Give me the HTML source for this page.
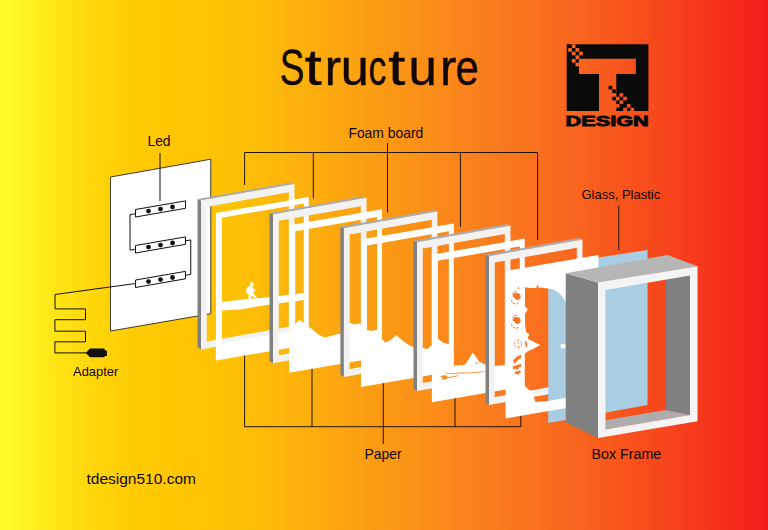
<!DOCTYPE html>
<html lang="en"><head><meta charset="utf-8"><title>Structure</title>
<style>html,body{margin:0;padding:0;background:#fff;}body{width:768px;height:530px;overflow:hidden;}svg{display:block;}</style>
</head><body>
<svg width="768" height="530" viewBox="0 0 768 530" font-family="'Liberation Sans', sans-serif">
<defs>
<linearGradient id="bg" gradientUnits="userSpaceOnUse" x1="0" y1="0" x2="768" y2="0">
<stop offset="0.0000" stop-color="#ffff2b"/>
<stop offset="0.0625" stop-color="#ffe919"/>
<stop offset="0.1250" stop-color="#ffd50a"/>
<stop offset="0.1823" stop-color="#ffca03"/>
<stop offset="0.2474" stop-color="#ffc502"/>
<stop offset="0.3125" stop-color="#fdc005"/>
<stop offset="0.3776" stop-color="#fdb40c"/>
<stop offset="0.4427" stop-color="#fca610"/>
<stop offset="0.5000" stop-color="#fb9a14"/>
<stop offset="0.6250" stop-color="#fa7f1d"/>
<stop offset="0.7500" stop-color="#f9651e"/>
<stop offset="0.8750" stop-color="#f7431c"/>
<stop offset="1.0000" stop-color="#f31d1b"/>
</linearGradient>
</defs>
<rect width="768" height="530" fill="url(#bg)"/>
<g stroke="#1a0d05" stroke-width="0.95" fill="none">
<path d="M244.6 185 V152.5 H537.6 V240"/>
<path d="M313.3 152.5 V198.5 M387.5 143 V212.5 M460.4 152.5 V227"/>
<path d="M244.6 352 V426.7 H520.8 V405"/>
<path d="M312 365 V426.7 M383.3 380 V444 M455 392 V426.7"/>
<path d="M618.75 205.5 V249.8"/>
</g>
<polygon points="110.50,177.00 210.75,159.25 210.75,313.75 110.50,331.00" fill="#fff" stroke="#111" stroke-width="0.8"/>
<g stroke="#111" stroke-width="1" fill="none">
<path d="M160 153 V201"/>
<path d="M135.5 213.75 L130 214.6 V250.1 L135.5 249.25"/>
<path d="M185.5 240.75 L190.75 240 V274.5 L185.5 275.25"/>
<path d="M135.5 283.5 L55 294.5 V308.9 H85.5 V319.7 H54.9 V331.2 H85.5 V341.8 H54.9 V352.9 H88"/>
<polygon fill="#fff" points="135.50,209.50 185.50,200.90 185.50,208.30 135.50,217.00"/>
<polygon fill="#fff" points="135.50,245.50 185.50,236.90 185.50,244.30 135.50,253.00"/>
<polygon fill="#fff" points="135.50,280.00 185.50,271.40 185.50,278.80 135.50,287.50"/>
</g>
<circle cx="148.50" cy="211.10" r="2.4" fill="#111"/>
<circle cx="160.50" cy="209.10" r="2.4" fill="#111"/>
<circle cx="172.50" cy="207.00" r="2.4" fill="#111"/>
<circle cx="148.50" cy="247.10" r="2.4" fill="#111"/>
<circle cx="160.50" cy="245.10" r="2.4" fill="#111"/>
<circle cx="172.50" cy="243.00" r="2.4" fill="#111"/>
<circle cx="148.50" cy="281.60" r="2.4" fill="#111"/>
<circle cx="160.50" cy="279.60" r="2.4" fill="#111"/>
<circle cx="172.50" cy="277.50" r="2.4" fill="#111"/>
<path fill="#111" d="M85.8 352.9 L90 348.6 H103.8 L105 349.8 V350.4 H106.9 V356 H105 V356.2 L103.8 357.3 H90 Z"/>
<polygon fill="#808080" points="197.50,199.00 201.00,200.60 201.00,349.40 197.50,347.00"/>
<polygon fill="#ababab" points="197.50,199.00 291.00,182.36 294.50,183.96 201.00,200.60"/>
<path fill="#f2f2f2" fill-rule="evenodd" d="M201.00 200.60 L294.50 183.96 L294.50 332.76 L201.00 349.40 Z M206.75 206.88 L288.80 192.27 L288.80 326.77 L206.75 341.38 Z"/>
<path fill="#fff" fill-rule="evenodd" d="M215.90 213.00 L308.75 196.90 L308.75 344.40 L215.90 360.50 Z M221.90 217.76 L303.75 203.57 L303.75 293.00 L270.00 297.31 L245.00 299.16 L221.90 302.00 Z M221.90 310.50 L240.00 309.38 L265.00 305.17 L303.75 300.00 L303.75 328.77 L221.90 342.96 Z"/>
<g fill="#fff"><circle cx="252" cy="284.2" r="1.9"/>
<path d="M250.2 285.8 C247.3 286.3 245.9 288.8 246.2 291.6 C246.4 293.4 247.6 294.4 249 294.5 L248.2 299.6 L250.3 299.8 L251.6 295.8 L254.6 297.9 L256.8 297.4 L256.5 296.4 L253.8 294.6 L253.6 291.4 L255.6 290.2 L255.2 289.2 L253.5 289.6 C253.6 287.6 252.4 285.8 250.2 285.8 Z"/></g>
<polygon fill="#808080" points="269.50,212.90 273.00,214.50 273.00,363.30 269.50,360.90"/>
<polygon fill="#ababab" points="269.50,212.90 363.00,196.26 366.50,197.86 273.00,214.50"/>
<path fill="#f2f2f2" fill-rule="evenodd" d="M273.00 214.50 L366.50 197.86 L366.50 346.66 L273.00 363.30 Z M278.75 220.78 L360.80 206.17 L360.80 340.67 L278.75 355.28 Z"/>
<path fill="#fff" fill-rule="evenodd" d="M289.20 225.30 L382.05 209.20 L382.05 356.70 L289.20 372.80 Z M295.20 231.26 L377.05 217.07 L377.05 330.00 L371.00 331.00 L365.50 330.00 L359.80 323.60 L354.00 324.50 L349.40 322.60 L345.00 329.00 L341.00 334.00 L336.60 334.30 L331.00 336.00 L327.00 337.00 L323.40 337.00 L320.00 335.50 L315.80 332.50 L312.00 329.00 L308.30 326.80 L303.00 322.50 L299.80 320.00 L296.50 322.50 L295.20 325.00 Z"/>
<polygon fill="#808080" points="340.40,226.60 343.90,228.20 343.90,377.00 340.40,374.60"/>
<polygon fill="#ababab" points="340.40,226.60 433.90,209.96 437.40,211.56 343.90,228.20"/>
<path fill="#f2f2f2" fill-rule="evenodd" d="M343.90 228.20 L437.40 211.56 L437.40 360.36 L343.90 377.00 Z M349.65 234.48 L431.70 219.87 L431.70 354.37 L349.65 368.98 Z"/>
<path fill="#fff" fill-rule="evenodd" d="M361.00 239.60 L453.85 223.50 L453.85 371.00 L361.00 387.10 Z M367.00 245.56 L448.85 231.37 L448.85 344.30 L442.80 342.50 L438.00 338.70 L432.50 344.30 L427.70 349.00 L422.00 348.00 L418.00 347.50 L413.60 347.00 L410.75 346.20 L405.00 342.50 L400.40 338.70 L398.50 337.00 L396.60 335.00 L393.00 338.00 L390.00 340.60 L385.30 342.50 L381.50 338.70 L376.80 330.00 L371.00 331.00 L367.00 330.00 Z"/>
<polygon fill="#808080" points="413.50,240.70 417.00,242.30 417.00,391.10 413.50,388.70"/>
<polygon fill="#ababab" points="413.50,240.70 507.00,224.06 510.50,225.66 417.00,242.30"/>
<path fill="#f2f2f2" fill-rule="evenodd" d="M417.00 242.30 L510.50 225.66 L510.50 374.46 L417.00 391.10 Z M422.75 248.58 L504.80 233.97 L504.80 368.47 L422.75 383.08 Z"/>
<path fill="#fff" fill-rule="evenodd" d="M431.90 254.70 L524.75 238.60 L524.75 386.10 L431.90 402.20 Z M437.90 260.66 L519.75 246.47 L519.75 363.00 L504.30 365.00 L494.50 366.00 L485.50 364.50 L483.00 363.60 L479.60 362.00 L472.80 352.40 L466.40 362.80 L465.50 364.20 L462.00 365.60 L460.00 364.80 L458.00 365.80 L456.00 365.00 L453.80 366.20 L446.00 367.60 L437.90 367.50 Z"/>
<g fill="url(#bg)"><path d="M444.6 372.5 L452 373.2 L460 372.6 L470 372.4 L484.4 371.2 L484.5 372 L470 373.2 L460 373.5 L452 374 L444.7 373.3 Z"/><path d="M440.2 376.4 L443 375.2 L446.6 375.6 L447.4 377 L452 376.6 L458.4 375.2 L458.5 375.9 L452 377.4 L447 378 L445.6 379.6 L441.6 379.4 L442.8 377.8 Z"/><path d="M475.2 362.6 h1.1 v1.3 h-1.1 Z M477.3 362.4 h1.1 v1.3 h-1.1 Z"/></g>
<polygon fill="#808080" points="485.50,254.60 489.00,256.20 489.00,405.00 485.50,402.60"/>
<polygon fill="#ababab" points="485.50,254.60 579.00,237.96 582.50,239.56 489.00,256.20"/>
<path fill="#f2f2f2" fill-rule="evenodd" d="M489.00 256.20 L582.50 239.56 L582.50 388.36 L489.00 405.00 Z M494.75 262.48 L576.80 247.87 L576.80 382.37 L494.75 396.98 Z"/>
<polygon fill="#a9cee3" points="548.25,265.20 647.50,250.00 647.50,405.00 548.25,423.00"/>
<path fill="#fff" fill-rule="evenodd" d="M505.60 271.00 L598.45 254.90 L598.45 402.40 L505.60 418.50 Z M525.00 287.30 L530.00 287.90 L536.20 288.10 L537.10 285.00 L538.60 285.90 L538.00 287.60 L540.90 287.40 L548.00 288.40 L552.00 289.10 L556.00 290.90 L560.00 294.00 L563.00 297.60 L565.00 300.60 L566.60 304.50 L568.00 311.00 L568.00 397.58 L548.00 401.05 L535.60 401.90 L531.70 392.00 L524.90 386.30 L523.20 379.50 L523.20 368.00 L524.00 354.50 L527.00 351.80 L533.00 349.00 L540.30 345.10 L533.00 341.40 L527.50 338.40 L529.40 334.30 L526.00 332.00 L525.20 325.20 L525.00 314.00 L527.70 309.30 L525.00 306.40 L525.00 297.00 Z"/>
<g fill="url(#bg)">
<path d="M518.2 286.6 L519.6 288.9 L517.6 288.4 Z"/>
<path d="M512.6 296.6 C512.2 294.2 514.6 292.6 517 292.8 C519.6 293 521 295 520.6 297.2 C520.2 299.2 518.2 300.2 516.2 299.8 C515.4 298.4 513.8 297.6 512.6 296.6 Z"/>
<path d="M512.6 320.6 C512.4 318.4 514.8 316.6 517.2 316.9 C519.8 317.2 521 319.2 520.6 321.4 C520.2 323.4 518 324.3 516 323.8 C515.2 322.4 513.8 321.6 512.6 320.6 Z"/>
<path d="M525.4 340.6 C527.2 342.4 527.8 345.6 526.2 348 C525.2 346 525 343 525.4 340.6 Z"/>
<path d="M512.8 361.6 C514.2 358.2 517.4 355.6 521 354.8 L521.2 358.2 C518.8 359 516.4 361 515.2 363.8 Z"/>
<path d="M512.6 366.6 L520.8 363.8 L521.2 366.6 L518.4 367.6 L518.6 369.6 L516.6 370 L516.2 368.4 L513.2 369.4 Z"/>
<path d="M514.6 371.8 L520.4 370.4 L520.8 372.6 L518.8 373.1 L519 374.4 L517.2 374.7 L517 373.6 L515.2 374 Z"/>
</g>
<g fill="none" stroke="url(#bg)">
<path stroke-width="1.1" stroke-dasharray="2.2 1.2" d="M511.2 300.4 C512.4 303.4 515.6 304.8 518.4 303.6"/>
<path stroke-width="0.8" d="M512.2 294 C513 292 515 291 517 291.2"/>
<path stroke-width="1.1" stroke-dasharray="2.2 1.2" d="M511.2 324.4 C512.4 327.6 515.6 329 518.4 327.6"/>
<path stroke-width="0.8" d="M512.2 318 C513 316 515 315.2 517 315.4"/>
<circle cx="518" cy="344.2" r="3.7" stroke-width="0.8" stroke-dasharray="2.4 1.5"/>
<path stroke-width="1" d="M517.4 342.6 L518.6 343.4 M518.2 346.2 L519 347"/>
</g>
<ellipse cx="563.2" cy="346.2" rx="2.8" ry="2.2" fill="#fff"/>
<polygon fill="#808080" points="665.75,270.00 690.00,270.00 690.00,415.00 665.75,410.00"/>
<polygon fill="#adadad" points="605.50,420.20 665.75,410.00 690.00,415.00 605.50,429.50"/>
<polygon fill="#808080" points="565.75,273.25 598.00,282.50 598.00,438.00 565.75,422.50"/>
<polygon fill="#b6b6b6" points="565.75,273.25 667.50,255.00 697.50,266.25 598.00,282.50"/>
<path fill="#f4f4f4" fill-rule="evenodd" d="M598.00 282.50 L697.50 266.25 L697.50 421.25 L598.00 438.00 Z M605.50 290.00 L690.00 275.50 L690.00 415.00 L605.50 429.50 Z"/>
<path fill="#0a0a0a" fill-rule="evenodd" d="M566.7 44.2 H648.4 V111 H566.7 Z M578.9 58.7 H635.9 V73.9 H616.3 V111 H599 V73.9 H578.9 Z"/>
<g fill="url(#bg)"><rect x="571.85" y="44.40" width="3.65" height="3.65"/><rect x="568.20" y="48.05" width="3.65" height="3.65"/><rect x="575.50" y="48.05" width="3.65" height="3.65"/><rect x="571.85" y="51.70" width="3.65" height="3.65"/><rect x="579.15" y="51.70" width="3.65" height="3.65"/><rect x="575.50" y="55.35" width="3.65" height="3.65"/><rect x="571.85" y="59.00" width="3.65" height="3.65"/><rect x="575.50" y="62.65" width="3.65" height="3.65"/><rect x="619.55" y="93.10" width="3.65" height="3.65"/><rect x="615.90" y="96.75" width="3.65" height="3.65"/><rect x="623.20" y="96.75" width="3.65" height="3.65"/><rect x="619.55" y="100.40" width="3.65" height="3.65"/><rect x="615.90" y="104.05" width="3.65" height="3.65"/><rect x="626.85" y="104.05" width="3.65" height="3.65"/><rect x="623.20" y="107.70" width="3.65" height="3.65"/><rect x="630.50" y="107.70" width="3.65" height="3.65"/></g>
<g fill="#0a0a0a"><rect x="608.60" y="85.80" width="3.65" height="3.65"/><rect x="612.25" y="89.45" width="3.65" height="3.65"/><rect x="612.25" y="96.75" width="3.65" height="3.65"/></g>
<text x="565.6" y="125.9" font-size="14.8" font-weight="bold" fill="#0a0a0a" stroke="#0a0a0a" stroke-width="0.9" textLength="83.2" lengthAdjust="spacingAndGlyphs">DESIGN</text>
<text y="85.0" font-size="49.2" fill="#120600" stroke="#120600" stroke-width="0.4"><tspan x="279.7" textLength="24.6" lengthAdjust="spacingAndGlyphs">S</tspan><tspan x="304.8" textLength="17.1" lengthAdjust="spacingAndGlyphs">t</tspan><tspan x="324.7" textLength="16.4" lengthAdjust="spacingAndGlyphs">r</tspan><tspan x="340.7" textLength="28.0" lengthAdjust="spacingAndGlyphs">u</tspan><tspan x="368.5" textLength="17.8" lengthAdjust="spacingAndGlyphs">c</tspan><tspan x="388.15" textLength="17.1" lengthAdjust="spacingAndGlyphs">t</tspan><tspan x="408.6" textLength="28.4" lengthAdjust="spacingAndGlyphs">u</tspan><tspan x="440.0" textLength="16.4" lengthAdjust="spacingAndGlyphs">r</tspan><tspan x="455.6" textLength="23.2" lengthAdjust="spacingAndGlyphs">e</tspan></text>
<text x="147.5" y="145.8" font-size="13.8" fill="#120600">Led</text>
<text x="348.4" y="138.0" font-size="13.9" fill="#120600">Foam board</text>
<text x="581.5" y="198.8" font-size="13" fill="#120600">Glass, Plastic</text>
<text x="73.1" y="375.5" font-size="12.9" fill="#120600">Adapter</text>
<text x="364.6" y="458.6" font-size="13.9" fill="#120600">Paper</text>
<text x="591.4" y="458.5" font-size="14.3" fill="#120600">Box Frame</text>
<text x="86.5" y="483.8" font-size="15.5" fill="#120600">tdesign510.com</text>
</svg>
</body></html>
